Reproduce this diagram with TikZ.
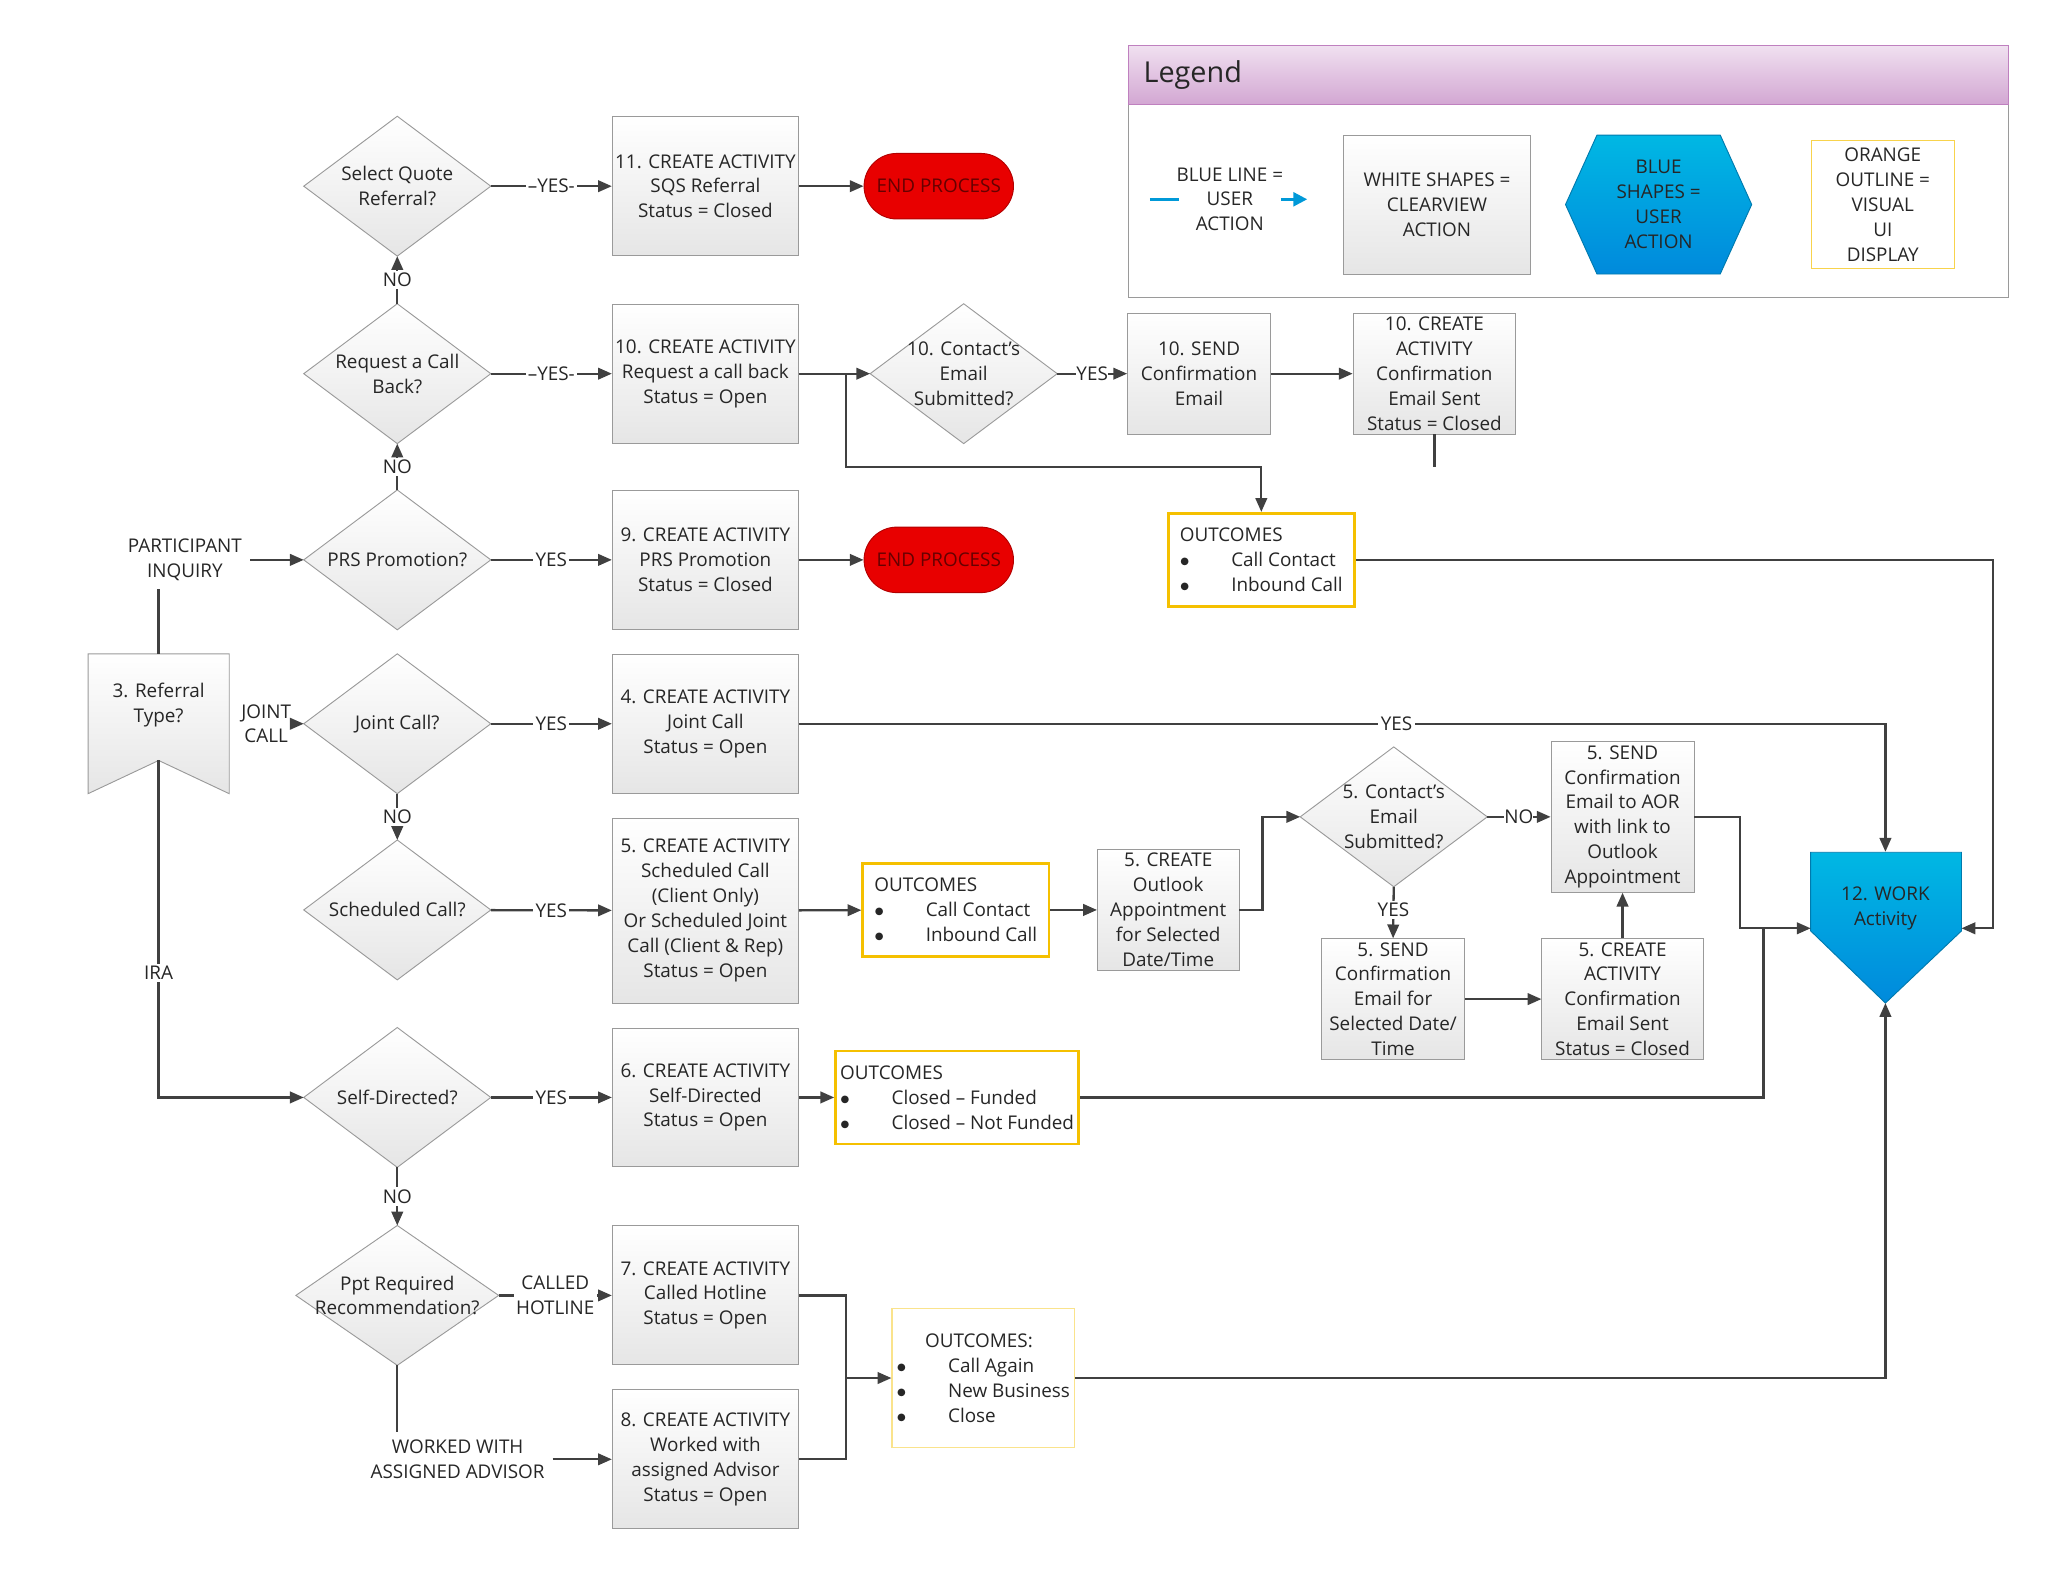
\documentclass[tikz,border=0pt]{standalone}
\usepackage{fontspec}
\setmainfont{Open Sans}
\usetikzlibrary{shapes.geometric,arrows.meta}
\pgfdeclarelayer{bg}
\pgfsetlayers{bg,main}
\definecolor{lineg}{HTML}{404040}
\definecolor{edgeg}{HTML}{9A9A9A}
\definecolor{ublue}{HTML}{0099D8}
\definecolor{oyel}{HTML}{F5C000}
\definecolor{endred}{HTML}{E80000}
\newcommand{\fsz}{\fontsize{8.2}{10.8}\selectfont}
\newcommand{\bul}{$\bullet$}
\tikzset{
  every node/.style={font=\fsz, text=black!85},
  box/.style={draw=edgeg, top color=white, bottom color=black!10, align=center,
    minimum width=2.84cm, minimum height=2.12cm, inner sep=1pt},
  dec/.style={align=center, minimum width=2.84cm, minimum height=2.12cm, inner sep=0pt},
  decshape/.style={draw=edgeg, top color=white, bottom color=black!10},
  outc/.style={draw=oyel, line width=1.2pt, fill=white, align=left, inner sep=2pt},
  endp/.style={rounded corners=0.5cm, fill=endred, draw=red!70!black, minimum width=2.28cm,
    minimum height=1cm, text=red!40!black},
  flow/.style={draw=lineg, line width=1pt, -{Triangle[length=6pt,width=5pt]}},
  seg/.style={draw=lineg, line width=1pt},
  lbl/.style={fill=white, inner sep=1pt},
}
\begin{document}
\begin{tikzpicture}[x=0.02cm, y=-0.02cm]
\useasboundingbox (0,0) rectangle (1562,1207);
% legend
\draw[draw=edgeg] (861,35) rectangle (1532,227);
\shade[top color=violet!12, bottom color=violet!35] (861,35) rectangle (1532,80);
\draw[draw=violet!50] (861,35) rectangle (1532,80);
\node[anchor=west, font=\fontsize{12.5}{15}\selectfont] (leg) at (866,57) {Legend};
\node[align=center] (legline) at (938,152) {BLUE LINE =\\USER\\ACTION};
\draw[ublue, line width=1.2pt] (877,152) -- (899,152);
\draw[ublue, line width=1.2pt, -{Triangle[length=6pt,width=6pt]}] (977,152) -- (997,152);
\node[box, minimum width=2.84cm] (legwhite) at (1096,156) {WHITE SHAPES =\\CLEARVIEW\\ACTION};
\shade[top color=ublue!70!cyan, bottom color=ublue!90!blue, draw=ublue!80!black]
  (1194,156) -- (1218,103) -- (1312,103) -- (1336,156) -- (1312,209) -- (1218,209) -- cycle;
\node[align=center] (legblue) at (1265,156) {BLUE\\SHAPES =\\USER\\ACTION};
\node[draw=oyel!70, fill=white, minimum width=2.18cm, minimum height=1.84cm, align=center] (legorange) at (1436,156) {ORANGE\\OUTLINE =\\VISUAL\\UI\\DISPLAY};

% decisions
\node[dec] (quote) at (303,142) {Select Quote\\Referral?};
\node[dec] (callback) at (303,285) {Request a Call\\Back?};
\node[dec] (prs) at (303,427) {PRS Promotion?};
\node[dec] (joint) at (303,552) {Joint Call?};
\node[dec] (sched) at (303,694) {Scheduled Call?};
\node[dec] (self) at (303,837) {Self-Directed?};
\node[dec, minimum width=3.08cm] (ppt) at (303,988) {Ppt Required\\Recommendation?};
\node[dec] (email10) at (735,285) {10. Contact's\\Email\\Submitted?};
\node[dec] (email5) at (1063,623) {5. Contact's\\Email\\Submitted?};
\begin{pgfonlayer}{bg}
\foreach \d in {quote,callback,prs,joint,sched,self,ppt,email10,email5}
  \path[decshape] (\d.west) -- (\d.north) -- (\d.east) -- (\d.south) -- cycle;
\end{pgfonlayer}

% activities
\node[box] (act11) at (538,142) {11. CREATE ACTIVITY\\SQS Referral\\Status = Closed};
\node[box] (act10) at (538,285) {10. CREATE ACTIVITY\\Request a call back\\Status = Open};
\node[box] (act9) at (538,427) {9. CREATE ACTIVITY\\PRS Promotion\\Status = Closed};
\node[box] (act4) at (538,552) {4. CREATE ACTIVITY\\Joint Call\\Status = Open};
\node[box, minimum height=2.82cm] (act5) at (538,694.5) {5. CREATE ACTIVITY\\Scheduled Call\\(Client Only)\\Or Scheduled Joint\\Call (Client \& Rep)\\Status = Open};
\node[box] (act6) at (538,837) {6. CREATE ACTIVITY\\Self-Directed\\Status = Open};
\node[box] (act7) at (538,988) {7. CREATE ACTIVITY\\Called Hotline\\Status = Open};
\node[box] (act8) at (538,1113) {8. CREATE ACTIVITY\\Worked with\\assigned Advisor\\Status = Open};
\node[box, minimum width=2.18cm, minimum height=1.84cm] (send10) at (914.5,285) {10. SEND\\Confirmation\\Email};
\node[box, minimum width=2.48cm, minimum height=1.84cm] (conf10) at (1094,285) {10. CREATE\\ACTIVITY\\Confirmation\\Email Sent\\Status = Closed};
\node[box, minimum width=2.16cm, minimum height=1.86cm] (outlook) at (891,694) {5. CREATE\\Outlook\\Appointment\\for Selected\\Date/Time};
\node[box, minimum width=2.18cm, minimum height=2.3cm] (aor) at (1237.5,623) {5. SEND\\Confirmation\\Email to AOR\\with link to\\Outlook\\Appointment};
\node[box, minimum width=2.18cm, minimum height=1.84cm] (send5) at (1062.5,762) {5. SEND\\Confirmation\\Email for\\Selected Date/\\Time};
\node[box, minimum width=2.46cm, minimum height=1.84cm] (conf5) at (1237.5,762) {5. CREATE\\ACTIVITY\\Confirmation\\Email Sent\\Status = Closed};

\node[endp] (end1) at (716,142) {END PROCESS};
\node[endp] (end2) at (716,427) {END PROCESS};

% outcomes
\node[outc, minimum width=2.84cm, minimum height=1.42cm] (out1) at (962,427) {OUTCOMES\\\bul\hspace{2.2em}Call Contact\\\bul\hspace{2.2em}Inbound Call};
\node[outc, minimum width=2.84cm, minimum height=1.42cm] (out2) at (729,694) {OUTCOMES\\\bul\hspace{2.2em}Call Contact\\\bul\hspace{2.2em}Inbound Call};
\node[outc, minimum width=3.56cm, minimum height=1.42cm] (out3) at (730,837) {OUTCOMES\\\bul\hspace{2.2em}Closed -- Funded\\\bul\hspace{2.2em}Closed -- Not Funded};
\node[outc, draw=oyel!45, line width=0.6pt, minimum width=2.76cm, minimum height=2.12cm] (out4) at (750,1051) {\hspace{1.5em}OUTCOMES:\\\bul\hspace{2.2em}Call Again\\\bul\hspace{2.2em}New Business\\\bul\hspace{2.2em}Close};

% referral type and work activity
\node[minimum width=2.14cm, minimum height=2.12cm] (ref) at (121,552) {};
\draw[draw=edgeg, top color=white, bottom color=black!10]
  (ref.north west) -- (ref.north east) -- (ref.south east) -- (121,580) -- (ref.south west) -- cycle;
\node[align=center] (reftxt) at (121,538) {3. Referral\\Type?};
\coordinate (refb) at (121,580);
\node[minimum width=2.3cm, minimum height=1.2cm] (work) at (1438,680) {};
\shade[top color=ublue!70!cyan, bottom color=ublue!90!blue, draw=ublue!80!black]
  (1381,650) -- (1496,650) -- (1496,710) -- (1438,765) -- (1381,710) -- cycle;
\node[align=center] (worktxt) at (1438,693) {12. WORK\\Activity};
\coordinate (wtip) at (1438,765);

\node[align=center] (inq) at (141,427) {PARTICIPANT\\INQUIRY};
\node[align=center] (jc) at (203,552) {JOINT\\CALL};
\node[align=center] (wwa) at (349,1113) {WORKED WITH\\ASSIGNED ADVISOR};

% connectors
\draw[seg] (ref.north) -- (ref.north |- inq.south);
\draw[flow] (inq.east) -- (prs.west);
\draw[flow] (jc.east) -- (joint.west);
\draw[flow] (refb) -- node[lbl, pos=0.63] {IRA} (121,837) -- (self.west);
\draw[flow] (quote) -- node[lbl] {--YES-} (act11);
\draw[flow] (callback) -- node[lbl] {--YES-} (act10);
\draw[flow] (prs) -- node[lbl] {YES} (act9);
\draw[flow] (joint) -- node[lbl] {YES} (act4);
\draw[flow] (sched) -- node[lbl] {YES} (act5);
\draw[flow] (self) -- node[lbl] {YES} (act6);
\draw[flow] (ppt) -- node[lbl, align=center] {CALLED\\HOTLINE} (act7);
\draw[flow] (callback) -- node[lbl] {NO} (quote);
\draw[flow] (prs) -- node[lbl] {NO} (callback);
\draw[flow] (joint) -- node[lbl] {NO} (sched);
\draw[flow] (self) -- node[lbl] {NO} (ppt);
\draw[seg] (ppt.south) -- (ppt.south |- wwa.north);
\draw[flow] (wwa.east) -- (act8.west);
\draw[flow] (act11) -- (end1);
\draw[flow] (act9) -- (end2);
\draw[flow] (act10.east) -- (645,285) -- (email10.west);
\draw[flow] (645,285) -- (645,356) -- (962,356) -- (out1.north);
\draw[seg] (conf10.south) -- (1094,356);
\draw[flow] (email10) -- node[lbl, inner sep=0pt] {YES} (send10);
\draw[flow] (send10) -- (conf10);
\draw[flow] (out1.east) -- (1520,427) -- (1520,708) -- (1496,708);
\draw[flow] (act4.east) -- node[lbl, pos=0.55] {YES} (1438,552) -- (work.north);
\draw[flow] (act5) -- (out2);
\draw[flow] (out2) -- (outlook);
\draw[flow] (outlook.east) -- (963,694) -- (963,623) -- (email5.west);
\draw[flow] (email5) -- node[lbl, inner sep=0pt] {NO} (aor);
\draw[flow] (email5.south) -- node[lbl, pos=0.45] {YES} (send5.north);
\draw[flow] (send5) -- (conf5);
\draw[flow] (conf5) -- (aor);
\draw[flow] (aor.east) -- (1327,623) -- (1327,708) -- (1381,708);
\draw[flow] (act6) -- (out3);
\draw[seg] (out3.east) -- (1345,837) -- (1345,708);
\draw[seg] (act7.east) -- (645,988) -- (645,1113) -- (act8.east);
\draw[flow] (645,1051) -- (out4.west);
\draw[flow] (out4.east) -- (1438,1051) -- (wtip);
\end{tikzpicture}
\end{document}
